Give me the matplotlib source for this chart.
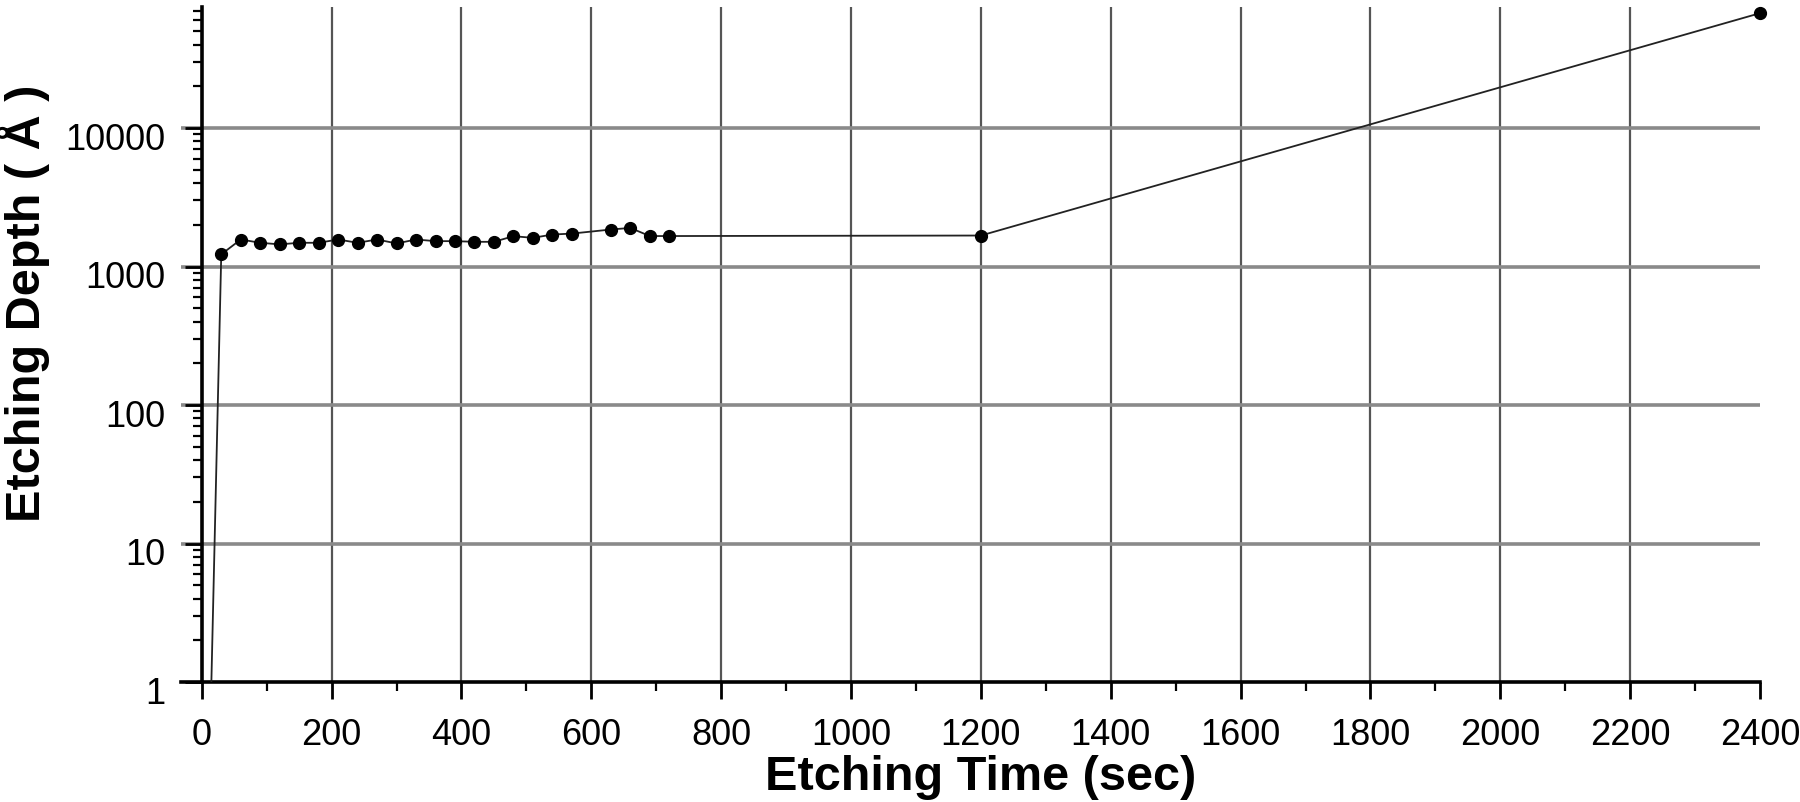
import numpy as np
import matplotlib
matplotlib.use('Agg')
import matplotlib.pyplot as plt
import matplotlib.transforms as mtransforms
from matplotlib.ticker import FixedLocator, LogLocator, NullFormatter

plt.rcParams['font.family'] = ['Liberation Sans', 'DejaVu Sans']

# etching time (sec) and depth (Angstrom)
# first entry: line starts below the 1 A floor at t=0
etch_time = [0, 30, 60, 90, 120, 150, 180, 210, 240, 270, 300, 330, 360, 390,
             420, 450, 480, 510, 540, 570, 630, 660, 690, 720, 1200, 2400]
etch_depth = [0.001, 1224, 1567, 1484, 1445, 1484, 1484, 1567, 1484, 1567, 1468,
              1567, 1525, 1525, 1508, 1508, 1656, 1611, 1702, 1729, 1850, 1900,
              1660, 1660, 1674, 67500]

x_major = [0, 200, 400, 600, 800, 1000, 1200, 1400, 1600, 1800, 2000, 2200, 2400]
y_major = [1, 10, 100, 1000, 10000]
y_labels = ['1', '10', '100', '1000', '10000']

fig = plt.figure(figsize=(18, 8.02), dpi=100)
ax = fig.add_axes([181 / 1800, 120 / 802, 1579 / 1800, 675 / 802])

# gridlines drawn by hand so that no line sits on the right edge
for x in x_major[1:-1]:
    ax.axvline(x, color='#555555', lw=1.6, zorder=1)
for y in y_major[1:]:
    ax.axhline(y, color='#8a8a8a', lw=2.6, zorder=1)

ax.plot(etch_time, etch_depth, color='#222222', lw=1.3, zorder=3)
# markers only for the measured points, not clipped at the right edge
ax.plot(etch_time[1:], etch_depth[1:], ls='none', marker='o', markersize=8.5,
        markerfacecolor='black', markeredgecolor='black', zorder=4, clip_on=False)

ax.set_yscale('log')
ax.set_xlim(-32, 2400)
ax.set_ylim(1, 74800)

ax.spines['top'].set_visible(False)
ax.spines['right'].set_visible(False)
ax.spines['left'].set_position(('data', 0))
ax.spines['left'].set_linewidth(2.6)
ax.spines['bottom'].set_linewidth(2.6)

ax.xaxis.set_major_locator(FixedLocator(x_major))
ax.xaxis.set_minor_locator(FixedLocator(np.arange(100, 2400, 200)))
ax.yaxis.set_major_locator(FixedLocator(y_major))
ax.set_yticklabels(y_labels)
ax.yaxis.set_minor_locator(LogLocator(base=10, subs=np.arange(2, 10)))
ax.yaxis.set_minor_formatter(NullFormatter())

ax.tick_params(axis='both', which='major', direction='out', length=12, width=2,
               labelsize=26, pad=14, colors='black')
ax.tick_params(axis='both', which='minor', direction='out', length=6.5, width=1.6)

# the y labels sit a little below their lines in the original
offset = mtransforms.ScaledTranslation(0, -8 / 100, fig.dpi_scale_trans)
for lab in ax.get_yticklabels():
    lab.set_transform(lab.get_transform() + offset)

fig.text(981 / 1800, 12 / 802, 'Etching Time (sec)', ha='center', va='baseline',
         fontsize=35, fontweight='bold')
fig.text(24 / 1800, 1 - 303 / 802, 'Etching Depth ( Å )', ha='center', va='center',
         rotation=90, fontsize=35, fontweight='bold')

fig.savefig('out.png', dpi=100, facecolor='white')
